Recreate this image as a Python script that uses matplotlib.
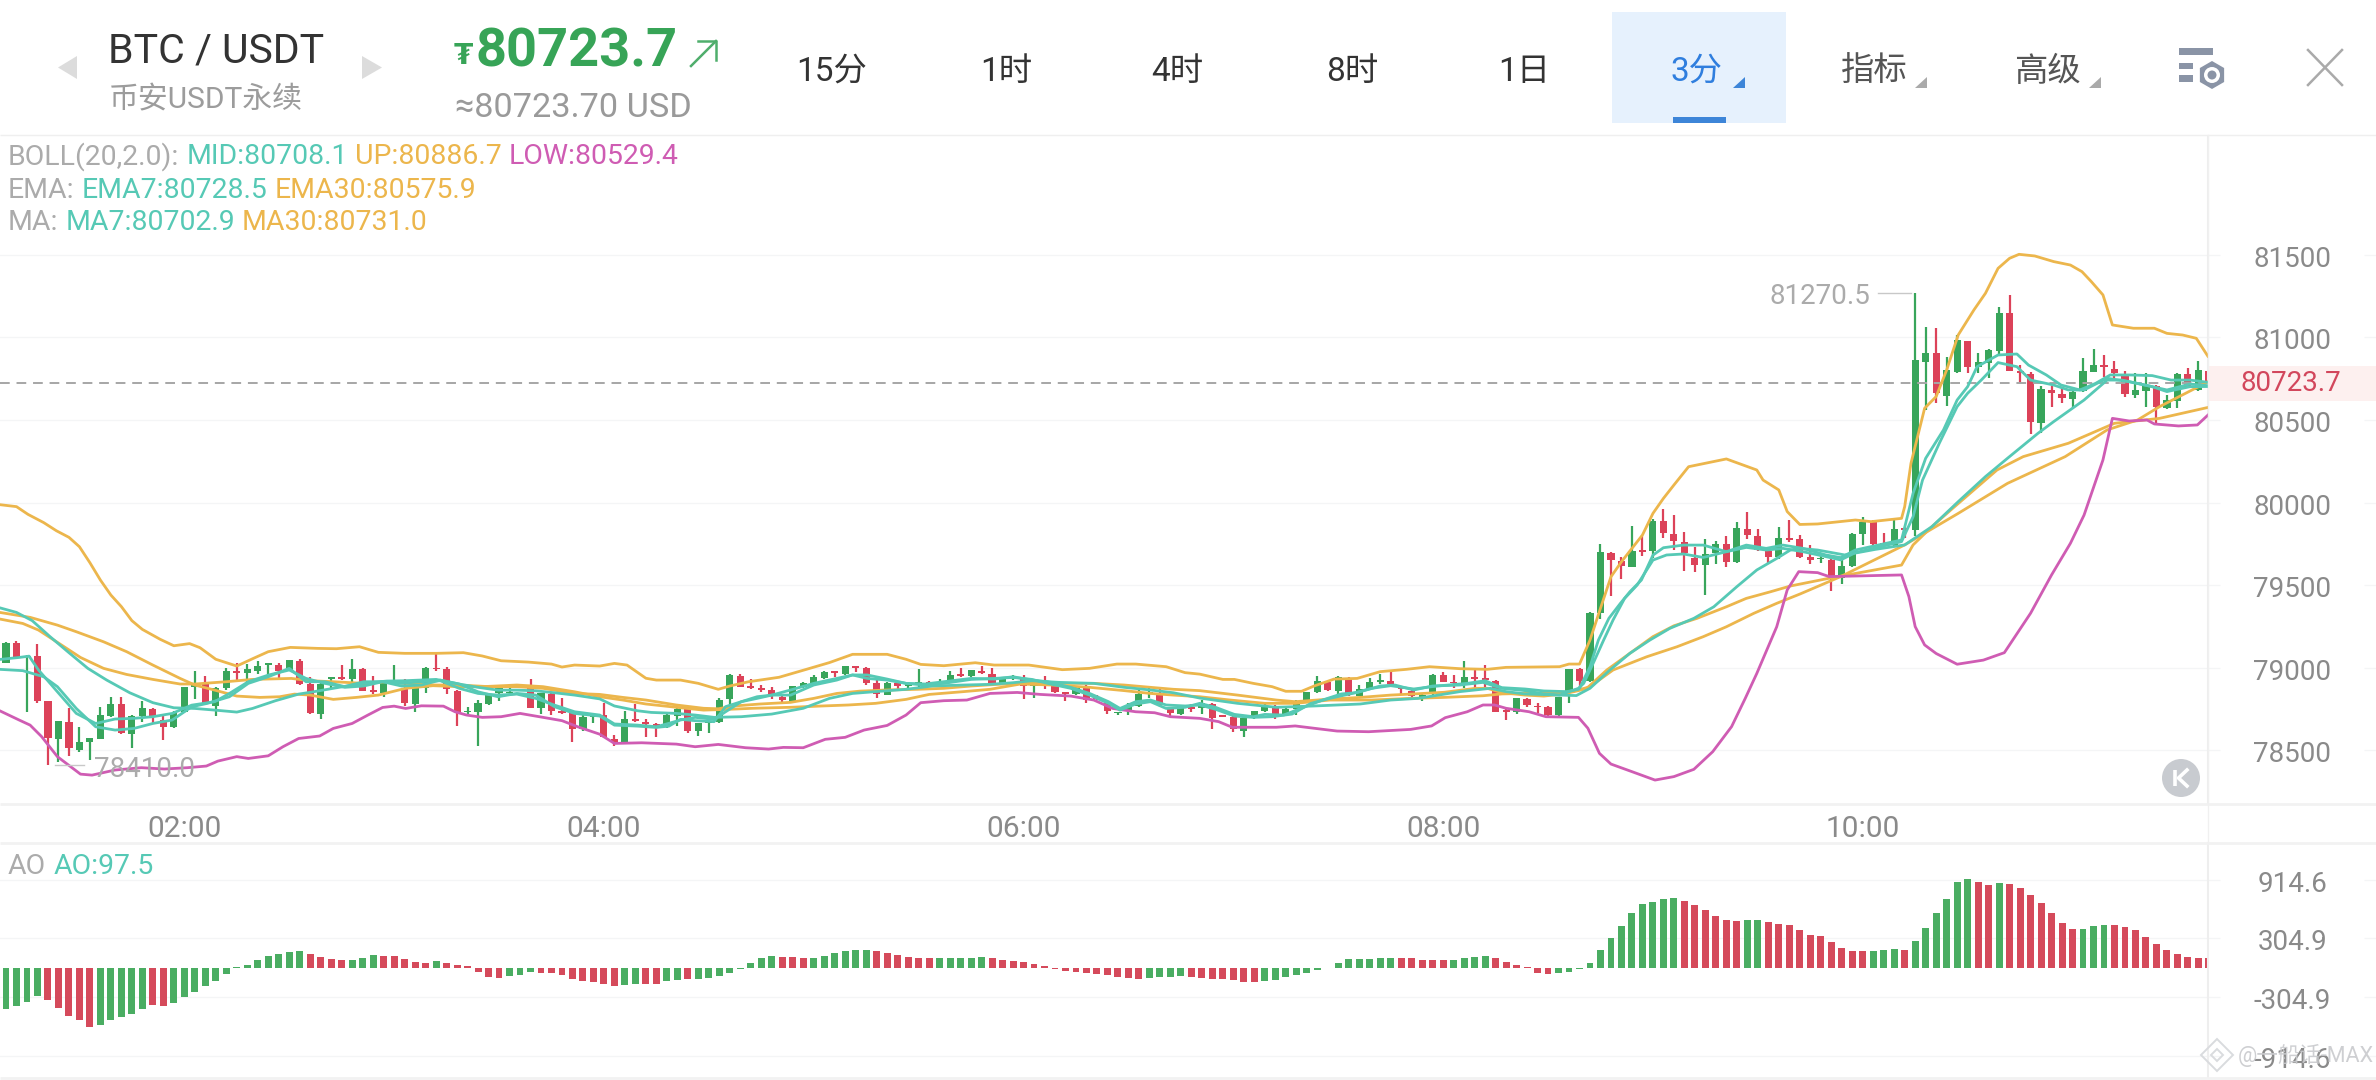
import matplotlib
matplotlib.use("Agg")
import matplotlib.pyplot as plt
from matplotlib.patches import Rectangle, Circle, Polygon, RegularPolygon
from matplotlib.transforms import ScaledTranslation

plt.rcParams['font.family'] = ['Roboto', 'Noto Sans CJK SC', 'DejaVu Sans']

# ---------- data ----------
opens = [79029,79146,79061,79069,78795,78564,78671,78500,78550,78568,78706,78777,78597,78706,78750,78682,78637,78732,78880,78900,
78766,78874,78972,78964,78981,79017,79017,78981,79041,78898,78716,78930,78944,78932,78991,78857,78843,78910,78874,78779,
78874,78999,78991,78860,78728,78732,78779,78843,78843,78884,78894,78752,78839,78734,78724,78629,78698,
78712,78565,78548,78686,78668,78652,78637,78708,78759,78617,78666,78668,78807,78949,78888,78878,78864,78819,78795,78880,
78908,78934,78975,78961,79007,78995,78904,78835,78908,78888,78904,78914,78904,78918,78961,78946,78981,78961,78900,78940,
78928,78888,78908,78888,78847,78837,78874,78823,78793,78722,78742,78769,78837,78839,78763,78718,78763,
78753,78777,78710,78700,78617,78692,78739,78755,78714,78747,78797,78850,78912,78860,78936,78830,78872,78914,78916,78874,
78860,78823,78840,78957,78914,78904,78945,78932,78918,78737,78730,78809,78767,78763,78710,78860,
78989,78918,79332,79696,79643,79611,79714,79704,79886,79807,79762,79663,79621,79692,79746,79639,79841,79797,79706,79671,
79785,79777,79670,79656,79652,79541,79615,79807,79880,79753,79743,79842,79833,80854,80904,80646,80793,80979,80819,80848,
80920,81147,80799,80777,80480,80682,80660,80627,80674,80793,80833,80807,80775,80652,80678,80706,80571,80617,80779,80682,80797]
highs = [79156,79160,79075,79142,78799,78678,78752,78637,78574,78762,78819,78823,78712,78797,78752,78712,78738,78880,78979,78950,
78884,78995,79025,79019,79039,79029,79029,79045,79049,78940,78924,78938,79013,79053,78995,78948,78914,79013,78932,78914,
79001,79082,79005,78864,78762,78803,78843,78888,78874,78900,78930,78847,78847,78815,78726,78726,78726,
78783,78591,78736,78779,78686,78662,78722,78759,78763,78666,78672,78815,78961,78961,78932,78892,78880,78835,78890,78910,
78952,78979,78981,79011,79009,79005,78934,78910,78918,78904,78991,78920,78928,78977,78995,78985,79011,78995,78944,78956,
78954,78924,78946,78892,78847,78880,78894,78833,78797,78732,78783,78868,78874,78868,78763,78767,78779,
78803,78783,78712,78706,78698,78739,78779,78775,78753,78803,78852,78949,78918,78949,78941,78894,78934,78959,78975,78880,
78872,78840,78959,78973,78955,79038,78993,79013,78924,78755,78817,78815,78783,78767,78823,78989,
78995,79334,79748,79698,79668,79859,79797,79898,79958,79926,79821,79732,79776,79766,79799,79880,79944,79839,79732,79849,
79894,79803,79743,79682,79662,79672,79817,79910,79894,79813,79894,79850,81270.5,81066,81056,80880,81015,80981,80908,80928,
81187,81258,80833,80793,80706,80706,80702,80702,80874,80930,80896,80860,80799,80787,80783,80712,80652,80783,80813,80858,80833]
lows = [79025,79061,78728,78787,78410,78429,78463,78486,78439,78564,78698,78597,78510,78672,78657,78560,78631,78726,78809,78779,
78706,78863,78912,78914,78960,78948,78930,78977,78896,78718,78686,78874,78924,78914,78855,78839,78823,78894,78766,78732,
78843,78981,78839,78645,78714,78524,78775,78795,78827,78875,78752,78716,78712,78718,78546,78615,78665,
78571,78524,78544,78672,78577,78577,78633,78645,78601,78585,78605,78664,78771,78880,78868,78854,78811,78787,78791,78876,
78904,78930,78940,78957,78973,78892,78813,78831,78872,78876,78880,78896,78894,78914,78940,78940,78961,78890,78896,78924,
78811,78815,78868,78847,78795,78833,78783,78803,78718,78714,78710,78763,78815,78763,78698,78714,78730,
78718,78625,78700,78609,78581,78688,78730,78686,78706,78712,78793,78844,78860,78836,78827,78825,78868,78898,78888,78840,
78823,78797,78836,78910,78874,78874,78874,78884,78728,78682,78716,78763,78722,78706,78706,78783,
78874,78914,79296,79433,79534,79607,79675,79661,79782,79712,79583,79578,79441,79627,79607,79631,79776,79708,79635,79655,
79763,79662,79625,79631,79464,79506,79607,79743,79743,79718,79733,79783,79797,80561,80605,80585,80787,80783,80787,80753,
80888,80795,80726,80413,80419,80581,80605,80571,80670,80789,80763,80743,80637,80631,80577,80484,80567,80573,80694,80678,80662]
closes = [79146,79065,79069,78799,78571,78673,78510,78546,78570,78712,78779,78601,78708,78752,78706,78641,78726,78880,78900,78787,
78874,78979,78966,78989,79011,79025,78981,79043,78900,78722,78900,78934,78932,78993,78859,78851,78904,78914,78783,78874,
78999,78989,78868,78728,78736,78783,78839,78874,78851,78892,78756,78843,78736,78726,78629,78698,78718,
78581,78544,78688,78678,78656,78645,78710,78748,78617,78662,78670,78803,78953,78884,78876,78864,78827,78803,78888,78908,
78940,78975,78969,79009,78999,78908,78837,78908,78888,78896,78914,78904,78912,78957,78950,78983,78965,78894,78940,78948,
78888,78914,78900,78851,78841,78878,78803,78811,78736,78728,78773,78839,78851,78771,78722,78767,78750,
78783,78696,78702,78625,78694,78735,78767,78716,78747,78797,78850,78918,78864,78945,78832,78870,78910,78920,78898,78870,
78827,78832,78957,78914,78904,78941,78932,78924,78732,78730,78815,78773,78759,78714,78819,78989,
78918,79332,79700,79650,79615,79708,79702,79890,79813,79766,79692,79623,79688,79746,79641,79843,79803,79712,79671,79783,
79771,79668,79652,79664,79545,79617,79809,79884,79751,79747,79840,79836,80864,80908,80662,80803,80985,80823,80854,80924,
81151,80799,80783,80486,80686,80662,80631,80672,80797,80833,80819,80783,80658,80680,80712,80581,80621,80779,80702,80803,80723.7]

boll_up = [(-0.6,79987),(1,79975),(2.1,79928),(3.6,79878),(4.8,79829),(6,79789),(7,79732),(8,79635),(9,79530),(10,79439),(11,79369),(12,79284),(13,79231),(14.7,79171),(16,79132),(17.5,79145),(18.5,79120),(20,79050),(22,79009),(23.6,79056),(25,79096),(27.1,79122),(29.7,79116),(31.5,79114),(33.7,79126),(35.5,79092),(38,79086),(41,79086),(43.6,79090),(45.4,79070),(47.2,79041),(49.8,79033),(52,79021),(53,79003),(54.2,79015),(56.6,79009),(58,79025),(59.2,79015),(61,78935),(62,78924),(64.3,78924),(66,78904),(67.9,78868),(69,78888),(70.8,78914),(73.7,78941),(76.3,78989),(78.5,79030),(80.7,79080),(84,79080),(85.8,79050),(87.2,79019),(89.4,79011),(92.4,79029),(94.2,79015),(97.5,79015),(100.7,78987),(103.3,78995),(105.9,79021),(107.7,79021),(110.6,79005),(112.4,78969),(113.8,78960),(116,78928),(117.1,78928),(118.9,78904),(120.7,78884),(122,78856),(123.5,78856),(124.7,78888),(126.6,78930),(128.8,78934),(131,78975),(133.5,78989),(135.7,79005),(138.6,78993),(141.2,78989),(143,79001),(148.1,79005),(149,79021),(150,79021),(151,79166),(152,79359),(153,79550),(154,79641),(155,79722),(156,79803),(157,79934),(158,80025),(159,80106),(160.4,80217),(164,80264),(166.9,80197),(167.5,80136),(169,80076),(169.8,79945),(171,79867),(172.7,79870),(176.3,79894),(177.8,79884),(180.7,79904),(181,79975),(181.6,80238),(182.9,80571),(184,80642),(185,80803),(186.1,81015),(187.6,81167),(188.7,81268),(189.9,81419),(191,81480),(191.9,81504),(193.4,81494),(195.2,81460),(196.8,81439),(197.9,81399),(198.8,81338),(199.9,81258),(200.8,81076),(202.8,81056),(204.8,81056),(206,81025),(207.5,81015),(208.8,80995),(209.9,80886.7)]

boll_mid = [(-0.6,79362),(1,79334),(2.5,79284),(4.2,79187),(6,79090),(7.8,78995),(9.6,78924),(11.8,78847),(14,78787),(16,78756),(18,78752),(19.9,78742),(22,78730),(23.5,78752),(25.7,78799),(27.9,78839),(29.3,78853),(31.2,78874),(33,78894),(34.6,78908),(36.3,78918),(38,78920),(41,78928),(43.2,78900),(45,78880),(46.9,78863),(48.7,78863),(50.5,78859),(52.3,78847),(54.2,78833),(56.6,78810),(58,78767),(60.2,78738),(61.5,78728),(63.9,78722),(65.7,78712),(67.5,78698),(70.1,78702),(73,78718),(76,78753),(78.5,78813),(80.7,78843),(82.9,78854),(85.8,78868),(88.3,78888),(91.3,78894),(93.8,78898),(96,78908),(97.8,78920),(100.4,78910),(103.7,78904),(106.6,78880),(109.1,78864),(111.3,78847),(113.8,78815),(117.4,78783),(121.1,78759),(124.7,78767),(129.1,78779),(132,78803),(134.6,78813),(138.6,78854),(141.5,78874),(143,78854),(144.8,78840),(148.1,78833),(149.7,78830),(151,78874),(152.9,78985),(154.8,79086),(156.7,79166),(158.6,79237),(160.9,79298),(162.8,79368),(165,79490),(166.9,79591),(168.8,79661),(170.1,79712),(171,79722),(172.7,79712),(175.3,79682),(178.2,79716),(181,79743),(183.6,79854),(186.1,80005),(188.7,80157),(190.8,80268),(193.7,80419),(195.2,80490),(198.1,80621),(200.3,80742),(201.7,80742),(203.9,80712),(206,80682),(208.2,80718),(209.9,80708.1)]

boll_low = [(-0.6,78738),(1.25,78682),(2.3,78651),(3.4,78581),(4.9,78460),(7.1,78354),(8.2,78348),(10.4,78379),(12.9,78393),(15.1,78385),(17.3,78393),(19.1,78403),(20.2,78433),(22,78460),(23.1,78449),(25,78465),(26.4,78520),(27.9,78570),(29.9,78585),(31.2,78631),(33,78661),(34.5,78712),(35.9,78758),(37,78766),(38.1,78752),(39.6,78768),(41.7,78766),(42.8,78732),(43.9,78712),(45.4,78698),(47.2,78702),(49,78722),(51.2,78698),(53,78678),(54.5,78641),(56.6,78596),(58,78540),(60.6,78544),(63.9,78536),(65.7,78520),(67.9,78534),(70.5,78514),(72.7,78506),(74.1,78516),(76,78514),(78.1,78565),(80,78577),(81.8,78621),(84,78649),(85.8,78712),(87.2,78787),(89.4,78799),(91.6,78803),(93.8,78843),(96.4,78849),(98.6,78837),(101.5,78827),(103.7,78803),(105.5,78752),(107.7,78732),(109.5,78726),(111,78702),(113.8,78692),(115.6,78672),(116.9,78638),(118.5,78638),(121.1,78638),(122.9,78646),(124.7,78632),(126.9,78615),(129.9,78611),(133.9,78625),(135.9,78646),(137.2,78696),(139.3,78732),(140.8,78773),(141.9,78773),(143,78753),(145.2,78732),(146.8,78702),(149.9,78698),(150.8,78632),(151.9,78480),(153,78415),(155,78369),(157.2,78318),(159,78339),(160.9,78383),(162.7,78490),(164.5,78642),(165.8,78813),(166.9,78964),(168.8,79247),(169.8,79470),(170.9,79581),(172.7,79575),(173.8,79551),(180.7,79561),(181.4,79430),(182,79248),(182.9,79137),(184,79085),(186,79020),(188.5,79045),(190.5,79090),(193,79329),(195,79561),(196.8,79753),(198.1,79924),(199.9,80258),(200.8,80510),(202.4,80494),(204.1,80500),(204.8,80476),(207.1,80464),(208.9,80470),(209.9,80529.4)]

ema7 = [(-0.6,79049),(1.25,79061),(2.2,79069),(3.1,78985),(4.9,78853),(6.7,78722),(8.55,78661),(10.4,78688),(12.2,78692),(14,78702),(15.85,78722),(17.7,78772),(19.9,78793),(21.3,78843),(23.1,78914),(25,78954),(27,78985),(28.6,78934),(30.4,78904),(32.3,78880),(34.1,78888),(35.9,78914),(37.7,78904),(39.6,78914),(41.4,78920),(43.2,78874),(45,78843),(46.9,78833),(48.7,78839),(50.5,78813),(52.3,78772),(54.2,78732),(56.6,78712),(58,78658),(60.2,78651),(62,78641),(63.2,78662),(64.3,78682),(65.7,78698),(67.5,78686),(68.6,78732),(70.1,78793),(71.6,78823),(73,78833),(74.8,78864),(77,78904),(79.2,78934),(80.7,78955),(82.1,78955),(84,78930),(85.8,78904),(87.6,78900),(89.4,78914),(92,78934),(94.2,78930),(96,78944),(97.8,78924),(99.3,78914),(101.5,78880),(103.3,78843),(105.1,78793),(106.2,78752),(107.7,78793),(109.1,78803),(110.6,78773),(112.4,78767),(113.8,78773),(115.3,78747),(117.1,78706),(118.9,78698),(120.7,78702),(122.6,78718),(124.4,78783),(126.2,78813),(128.4,78844),(130.2,78874),(132,78890),(134.2,78870),(136.4,78888),(139.3,78904),(141,78920),(142.6,78878),(144.8,78870),(146.6,78858),(148.8,78854),(149.9,78868),(150,78874),(151,79005),(151.8,79166),(152.8,79298),(153.9,79389),(154.8,79459),(155.9,79530),(157,79681),(158,79726),(159.9,79742),(161.8,79742),(164,79702),(165.9,79742),(167.8,79722),(169.4,79742),(171.3,79722),(173.5,79682),(174.9,79666),(176.3,79712),(180.7,79773),(181.8,80056),(183,80268),(184.7,80440),(186,80621),(187,80702),(187.9,80823),(189.9,80894),(191.7,80900),(192.8,80833),(194.5,80773),(195.9,80712),(197.7,80682),(199.2,80722),(200.6,80773),(202.4,80773),(204.6,80769),(206.4,80742),(208.2,80742),(209.9,80728.5)]

ma7 = [(-0.6,78989),(1.6,78981),(3.6,78944),(4.9,78884),(6.7,78752),(8.55,78641),(10.4,78621),(12.2,78631),(14,78661),(15.85,78682),(17.7,78762),(19.2,78783),(21.3,78823),(23.1,78904),(25,78944),(27,78995),(28.6,78914),(30.4,78914),(32.3,78884),(34.1,78914),(35.9,78914),(37.7,78888),(39.6,78894),(41.4,78924),(43.2,78900),(45,78853),(46.9,78823),(48.7,78843),(50.5,78833),(52.3,78762),(54.2,78722),(56.6,78706),(58,78651),(60.2,78645),(62,78637),(63.2,78645),(64.3,78686),(65.7,78678),(67.5,78672),(68.6,78763),(70.1,78793),(71.6,78813),(73,78833),(74.8,78833),(77,78894),(79.2,78924),(80.7,78955),(82.1,78934),(84,78924),(85.8,78904),(87.6,78894),(89.4,78904),(92,78928),(94.2,78934),(96,78940),(97.8,78928),(99.3,78904),(101.5,78874),(103.3,78833),(105.1,78783),(106.2,78742),(107.7,78779),(109.1,78793),(110.6,78752),(112.4,78759),(113.8,78783),(115.3,78759),(117.1,78716),(118.9,78702),(120,78716),(121.8,78712),(123.7,78759),(125.5,78803),(127.3,78840),(128.8,78848),(131,78888),(132.4,78894),(134.2,78864),(136,78888),(138.6,78894),(140.8,78910),(142.6,78874),(144.8,78860),(146.6,78840),(148.1,78833),(149.9,78874),(150.4,78904),(151.3,79025),(152.3,79166),(153.2,79288),(154.3,79419),(155.5,79500),(157,79651),(158.3,79682),(159.9,79688),(161.8,79667),(164,79702),(165.9,79728),(167.8,79712),(169.4,79722),(171.3,79702),(173.5,79672),(174.9,79652),(176.3,79696),(180.7,79763),(181.8,79914),(182.7,80136),(184.3,80359),(186,80581),(187,80662),(188.3,80742),(189.9,80848),(191.7,80823),(193,80742),(195.2,80712),(196.6,80682),(198.1,80682),(200.3,80753),(202.4,80732),(204.6,80702),(206,80672),(208.2,80702),(209.9,80702.9)]

ema30 = [(-0.6,79294),(1.6,79267),(3.1,79227),(5.3,79136),(7.1,79061),(9.3,78995),(11.5,78958),(14,78928),(16.6,78900),(18,78900),(21,78914),(23.5,78928),(27.2,78934),(29,78920),(31.2,78914),(34.1,78904),(36.3,78914),(38.1,78904),(41,78894),(43.2,78894),(46.1,78884),(48.7,78884),(51.2,78874),(54.2,78843),(56.6,78837),(58.8,78819),(61,78803),(63.9,78773),(66.5,78753),(67.9,78750),(69.4,78767),(71.9,78779),(74.8,78789),(77,78813),(79.2,78843),(81.4,78857),(84,78864),(86.9,78868),(89.4,78874),(92,78888),(94.5,78898),(96.7,78904),(99.7,78904),(103.7,78904),(106.6,78894),(109.1,78880),(111.3,78868),(113.8,78860),(117.4,78833),(121.1,78803),(122.9,78793),(125.8,78807),(129.1,78819),(132,78833),(134.2,78840),(137.1,78850),(140.1,78874),(141.2,78874),(142.6,78848),(144.8,78833),(146.6,78827),(148.5,78840),(149.9,78860),(150.7,78874),(152.6,78985),(154.8,79086),(157,79187),(159,79253),(161.2,79298),(164,79368),(165.9,79419),(168.2,79459),(170.1,79494),(173.8,79541),(180.7,79621),(181.8,79743),(183.6,79854),(185.4,79955),(189.8,80197),(192.3,80278),(196.6,80359),(201,80480),(205.3,80510),(209.9,80575.9)]

ma30 = [(-0.6,79334),(2.3,79304),(4.9,79257),(6.7,79217),(9.3,79156),(11.5,79096),(14,79015),(16.6,78934),(18,78894),(19.9,78863),(22,78827),(24.2,78819),(26.1,78823),(27.5,78839),(29,78833),(31.2,78807),(33.4,78819),(35.5,78833),(38.1,78874),(40.7,78890),(43.2,78884),(45.4,78884),(48.7,78894),(51.2,78884),(54.2,78853),(56.6,78823),(58.8,78803),(61,78779),(63.9,78759),(66.5,78742),(68.6,78746),(71.2,78753),(74.8,78759),(77.8,78767),(80.3,78773),(82.9,78783),(85.8,78807),(88,78837),(91.3,78854),(93.8,78868),(96.7,78900),(99.7,78894),(103.3,78880),(106.6,78860),(109.1,78843),(111.3,78833),(113.8,78823),(116.7,78803),(120,78783),(122.9,78783),(126.2,78803),(130.2,78803),(133.9,78813),(137.1,78819),(140.8,78829),(142.6,78840),(145.5,78844),(148.5,78848),(149.9,78864),(151,78884),(153.2,78985),(156.4,79065),(159.3,79126),(161.8,79187),(164,79247),(166.6,79328),(168.8,79389),(171,79445),(174.9,79551),(181,79743),(186.1,79934),(190.8,80116),(196.3,80278),(200.3,80440),(203.2,80500),(205.3,80581),(209.9,80731)]

ao_values = [-430,-398,-353,-294,-336,-419,-502,-544,-617,-596,-544,-513,-478,-423,-388,-395,-364,-308,-253,-191,-139,-66,10,28,80,121,142,163,177,145,
114,90,80,80,104,135,125,125,90,59,52,69,48,28,17,-42,-97,-107,-90,-76,-45,-55,-55,-73,-118,-142,-149,-170,-191,-177,
-170,-166,-166,-135,-128,-121,-118,-104,-83,-52,-14,55,104,121,111,111,100,107,125,152,173,184,184,173,149,128,111,100,97,97,
100,107,100,111,107,83,76,59,38,17,-14,-38,-42,-55,-62,-76,-97,-107,-118,-107,-100,-94,-87,
-94,-107,-118,-118,-128,-149,-149,-135,-128,-94,-76,-52,-24,3,45,87,90,94,100,100,100,100,80,80,80,80,97,111,121,104,59,28,7,-52,-66,-59,-42,-17,48,
180,308,433,565,662,682,710,724,693,651,599,537,495,485,495,495,471,454,443,391,346,329,267,208,173,173,173,184,194,184,277,412,568,714,890,921,890,859,880,869,
828,755,672,568,464,402,402,433,443,443,423,391,319,246,184,142,111,100,97.5]
ao_runs = [('G',4),('R',5),('G',5),('R',2),('G',13),('R',4),('G',3),('R',5),('G',1),('R',6),('G',3),('R',8),('G',2),('R',2),('G',2),('R',1),('G',8),('R',3),('G',6),('R',6),('G',5),('R',15),('G',4),('R',7),('G',13),('R',5),('G',4),('R',6),('G',12),('R',6),('G',2),('R',10),('G',3),('R',1),('G',6),('R',2),('G',1),('R',7),('G',3),('R',10)]

price_ticks = [78500, 79000, 79500, 80000, 80500, 81000, 81500]
ao_ticks = [-914.6, -304.9, 304.9, 914.6]
time_ticks = [17, 57, 97, 137, 177]
time_labels = ['02:00', '04:00', '06:00', '08:00', '10:00']
last_price = 80723.7
high_label, high_index = 81270.5, 182
low_label, low_index = 78410.0, 4
tabs = [('15分', 832), ('1时', 1006), ('4时', 1177), ('8时', 1352), ('1日', 1524)]

# ---------- styling ----------
W, H = 2376, 1080
GREEN, RED = '#38a55b', '#dc4259'
AO_G, AO_R = '#4aad62', '#d54a5b'
TEAL, YEL, PUR = '#56c9b5', '#ecb64c', '#cf5cb3'
GRID, AXC, GREY = '#f4f5f6', '#8a8a8a', '#ababab'
LW = 2.0

fig = plt.figure(figsize=(W / 100, H / 100), dpi=100, facecolor='white')

def px_axes(l, t, r, b, **kw):
    return fig.add_axes([l / W, 1 - b / H, (r - l) / W, (b - t) / H], **kw)

AX_R = 2208
X0, DX = 6.0, 10.49
xlim = (-X0 / DX, (AX_R - X0) / DX)

ax = px_axes(0, 136, AX_R, 804)
ax.set_xlim(*xlim)
ax.set_ylim(78173, 82221)
ao = px_axes(0, 843, AX_R, 1078)
ao.set_xlim(*xlim)
ao.set_ylim(-1145, 1297)

n = len(closes)
idx = list(range(n))
cols = [GREEN if c >= o else RED for o, c in zip(opens, closes)]
ax.vlines(idx, lows, highs, colors=cols, lw=1.6, zorder=2)
ax.bar(idx, [max(abs(c - o), 10) for o, c in zip(opens, closes)], bottom=[min(o, c) for o, c in zip(opens, closes)],
       width=0.68, color=cols, linewidth=0, zorder=2.1)

for pts, col in [(boll_up, YEL), (ema30, YEL), (ma30, YEL), (boll_low, PUR), (boll_mid, TEAL), (ma7, TEAL), (ema7, TEAL)]:
    ax.plot([p[0] for p in pts], [p[1] for p in pts], color=col, lw=LW, zorder=3, solid_joinstyle='round')

ax.axhline(last_price, color='#a6a6a6', lw=1.4, dashes=(5, 3.5), zorder=2.5)

cols_ao = []
for c, k in ao_runs:
    cols_ao += [AO_G if c == 'G' else AO_R] * k
ao.bar(range(len(ao_values)), ao_values, width=0.66, color=cols_ao, linewidth=0, zorder=2)

down = ScaledTranslation(0, -1.5 / 100, fig.dpi_scale_trans)
for a, ticks, labels in [(ax, price_ticks, [str(t) for t in price_ticks]), (ao, ao_ticks, [f'{t:g}' for t in ao_ticks])]:
    for s in ['top', 'bottom', 'left']:
        a.spines[s].set_visible(False)
    a.spines['right'].set_color('#eeeeee')
    a.spines['right'].set_linewidth(1.5)
    a.set_xticks([])
    a.yaxis.tick_right()
    a.set_yticks(ticks)
    a.set_yticklabels(labels)
    a.tick_params(axis='y', length=8.6, width=0.9, color=GRID, labelcolor=AXC, labelsize=20, pad=52)
    for lb in a.get_yticklabels():
        lb.set_ha('center')
        lb.set_transform(lb.get_transform() + down)
    a.grid(axis='y', color=GRID, lw=0.9, zorder=0)
    a.set_axisbelow(True)
    a.hlines(ticks, 1 + 156 / AX_R, 1 + 168 / AX_R, transform=a.get_yaxis_transform(), color=GRID, lw=0.9, clip_on=False)

# high / low annotations on the price axis
ax.annotate(f'{high_label:.1f}', (high_index, high_label), xytext=(-32, -2.5), textcoords='offset points',
            ha='right', va='center', color=GREY, fontsize=20)
ax.plot([high_index - 3.5, high_index - 0.4], [high_label, high_label], color='#c8c8c8', lw=1, zorder=3)
ax.annotate(f'{low_label:.1f}', (low_index, low_label), xytext=(33, -3), textcoords='offset points',
            ha='left', va='center', color=GREY, fontsize=20, zorder=4)
ax.plot([low_index + 0.7, low_index + 3.4], [low_label, low_label], color='#c8c8c8', lw=1, zorder=3)

# ---------- overlay in pixel coordinates: chrome ----------
ov = px_axes(0, 0, W, H)
ov.set_xlim(0, W)
ov.set_ylim(H, 0)
ov.axis('off')
ov.patch.set_alpha(0)

def hl(y, x0=0, x1=W, c='#efefef', lw=1.0):
    ov.plot([x0, x1], [y, y], color=c, lw=lw, solid_capstyle='butt')

hl(135)
hl(804, c='#f2f2f2', lw=2)
hl(843, c='#f2f2f2', lw=2)
hl(1078, c='#f2f2f2', lw=2)
ov.plot([2208, 2208], [135, 843], color='#f0f0f0', lw=1)

# active tab
ov.add_patch(Rectangle((1612, 12), 174, 111, color='#e6f1fd', lw=0))
ov.add_patch(Rectangle((1673, 117), 53, 6, color='#3d85d8', lw=0))

# symbol block
ov.add_patch(Polygon([(77, 56), (77, 79), (58, 67.5)], color='#dcdcdc', lw=0))
ov.add_patch(Polygon([(362, 56), (362, 79), (382, 67.5)], color='#dcdcdc', lw=0))
ov.text(108, 51, 'BTC / USDT', fontsize=29.5, color='#333333', va='center', ha='left')
ov.text(109, 100, '币安USDT永续', fontsize=21.5, color='#9c9c9c', va='center', ha='left')
ov.text(476, 52, '80723.7', fontsize=39, color='#37a457', weight='bold', va='center', ha='left')
ov.text(463, 56, '₮', fontsize=20, color='#37a457', weight='bold', va='center', ha='center', family='DejaVu Sans')
ov.plot([691, 716, 716], [66, 41, 41], color='#4fae6c', lw=1.8)
ov.plot([698, 716, 716], [41, 41, 60], color='#4fae6c', lw=1.8)
ov.text(455, 108, '≈80723.70 USD', fontsize=24.7, color='#9a9a9a', va='center', ha='left')

# tabs
for label, x in tabs:
    ov.text(x, 72, label, fontsize=24, color='#333333', va='center', ha='center')
ov.text(1697, 72, '3分', fontsize=24, color='#2f7ede', va='center', ha='center')
ov.text(1874, 72, '指标', fontsize=24, color='#555555', va='center', ha='center')
ov.text(2047, 72, '高级', fontsize=24, color='#555555', va='center', ha='center')
for xr, c in [(1745, '#3d85d8'), (1927, '#aaaaaa'), (2101, '#aaaaaa')]:
    ov.add_patch(Polygon([(xr, 77), (xr, 88), (xr - 12, 88)], color=c, lw=0))

# settings icon
ic = '#8a94a6'
ov.add_patch(Rectangle((2179, 48), 34, 7, color=ic, lw=0))
ov.add_patch(Rectangle((2179, 63), 14, 6, color=ic, lw=0))
ov.add_patch(Rectangle((2179, 75), 14, 7, color=ic, lw=0))
ov.add_patch(RegularPolygon((2212, 75), 6, radius=14, color=ic, lw=0))
ov.add_patch(Circle((2212, 75), 8, color='white', lw=0))
ov.add_patch(Circle((2212, 75), 4.5, color=ic, lw=0))

# close
ov.plot([2308, 2342], [50, 85], color='#aaaaaa', lw=1.8)
ov.plot([2342, 2308], [50, 85], color='#aaaaaa', lw=1.8)

# indicator rows
def row(x, y, parts, fs=20.4, gap=7):
    r = fig.canvas.get_renderer()
    for text, col in parts:
        t = ov.text(x, y, text, color=col, fontsize=fs, va='center', ha='left')
        x += t.get_window_extent(r).width + gap

row(8, 157, [('BOLL(20,2.0):', GREY), ('MID:80708.1', TEAL), ('UP:80886.7', YEL), ('LOW:80529.4', PUR)])
row(8, 191, [('EMA:', GREY), ('EMA7:80728.5', TEAL), ('EMA30:80575.9', YEL)])
row(8, 223, [('MA:', GREY), ('MA7:80702.9', TEAL), ('MA30:80731.0', YEL)])
row(8, 866, [('AO', GREY), ('AO:97.5', TEAL)])

# last price tag
ov.add_patch(Rectangle((2209, 366), W - 2209, 35, color='#fdf0ef', lw=0))
ov.text(1 + 83 / AX_R, last_price, f'{last_price:.1f}', transform=ax.get_yaxis_transform(), color='#d2475c',
        fontsize=20, ha='center', va='center', clip_on=False, zorder=6)
ax.set_zorder(5)
ax.patch.set_alpha(0)
ao.set_zorder(5)
ao.patch.set_alpha(0)

# time labels
for i, lab in zip(time_ticks, time_labels):
    ax.annotate(lab, (i, 0), xycoords=ax.get_xaxis_transform(), xytext=(0, -18), textcoords='offset points',
                ha='center', va='center', fontsize=21.5, color=AXC, annotation_clip=False)

# back-to-latest button
ov.set_zorder(6)
ov.add_patch(Circle((2181, 778), 19, color='#c8cbd0', lw=0))
ov.plot([2174.5, 2174.5], [770, 786], color='white', lw=2.6, solid_capstyle='butt')
ov.plot([2187, 2178.5, 2187], [770, 778, 786], color='white', lw=2.6)

# watermark
ov.add_patch(RegularPolygon((2217, 1055), 4, radius=16, fill=False, ec='#d9dbde', lw=1.4))
ov.add_patch(RegularPolygon((2217, 1055), 4, radius=6, fill=False, ec='#d9dbde', lw=1.4))
ov.text(2238, 1055, '@一船话-MAX', fontsize=15.5, color='#c9cacd', alpha=0.9, va='center', ha='left')

fig.savefig('out.png', dpi=100, facecolor='white')
